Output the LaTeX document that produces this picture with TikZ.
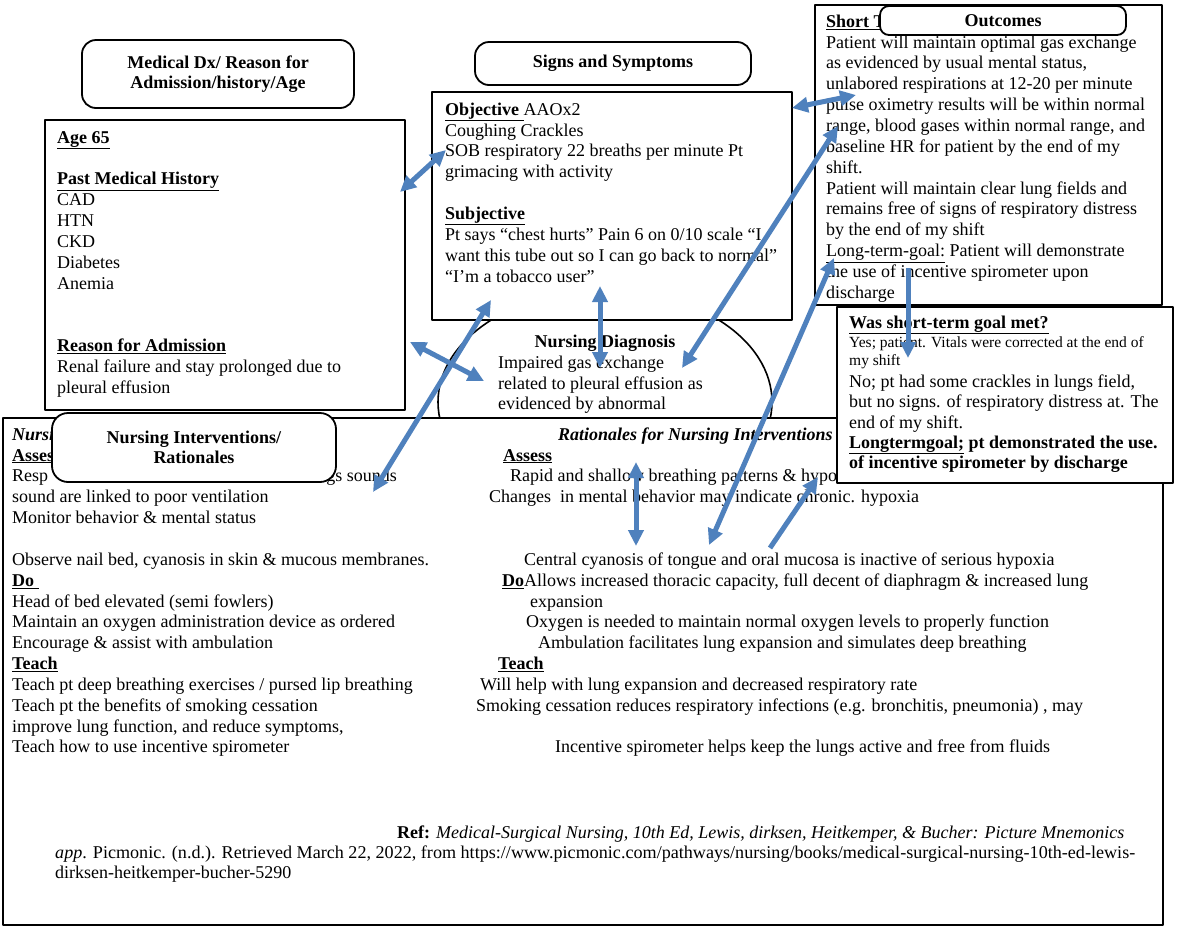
\documentclass[tikz,border=0pt]{standalone}
\usepackage{fontspec}
\setmainfont{Liberation Serif}
\usepackage{graphicx}
\usetikzlibrary{arrows.meta,shapes.geometric}
\definecolor{arrowblue}{RGB}{79,129,189}
\begin{document}
\lineskiplimit=-100pt\relax
\begin{tikzpicture}[x=1pt,y=-1pt,line join=round,
  box/.style={draw,line width=1.6pt,fill=white,rectangle,anchor=north west,inner sep=0,outer sep=0},
  hdr/.style={draw,line width=1.8pt,fill=white,rectangle,rounded corners=14pt,align=center,
    font=\bfseries\fontsize{18}{20.5}\selectfont,inner sep=0},
  txt/.style={align=left,inner sep=0,anchor=north west,
    font=\fontsize{18}{20.85}\selectfont},
  arr/.style={draw=arrowblue,line width=5pt,{Triangle[length=16pt,width=15pt]}-{Triangle[length=16pt,width=15pt]}},
  arrone/.style={draw=arrowblue,line width=5pt,-{Triangle[length=16pt,width=15pt]}}]
\useasboundingbox (0,0) rectangle (1200,927);
\fill[white] (0,0) rectangle (1200,927);

% Nursing diagnosis ellipse (behind boxes)
\node[ellipse,draw,line width=1.6pt,fill=white,minimum width=334pt,minimum height=224pt,inner sep=0] (ndell) at (605,402) {};

% main boxes of the upper row
\node[box,minimum width=360pt,minimum height=290pt] (agebox) at (45,120) {};
\node[box,minimum width=360pt,minimum height=228pt] (objbox) at (432,92) {};
\node[box,minimum width=347pt,minimum height=300pt] (outbox) at (815,5) {};

\node[txt] (agetxt) at (57,128.4) {\strut\underline{\textbf{Age 65}}\\ \\
\underline{\textbf{Past Medical History}}\\
CAD\\ HTN\\ CKD\\ Diabetes\\ Anemia\\ \\ \\
\underline{\textbf{Reason for Admission}}\\
Renal failure and stay prolonged due to\\
pleural effusion};

\node[txt] (objtxt) at (445,100.4) {\strut\underline{\textbf{Objective }}AAOx2\\
Coughing Crackles\\
SOB respiratory 22 breaths per minute Pt\\
grimacing with activity\\ \\
\underline{\textbf{Subjective}}\\
Pt says “chest hurts” Pain 6 on 0/10 scale “I\\
want this tube out so I can go back to normal”\\
“I’m a tobacco user”};

\node[txt] (outtxt) at (826,12.4) {\strut\underline{\textbf{Short T}}\\
Patient will maintain optimal gas exchange\\
as evidenced by usual mental status,\\
unlabored respirations at 12-20 per minute\\
pulse oximetry results will be within normal\\
range, blood gases within normal range, and\\
baseline HR for patient by the end of my\\
shift.\\
Patient will maintain clear lung fields and\\
remains free of signs of respiratory distress\\
by the end of my shift\\
\underline{Long-term-goal:} Patient will demonstrate\\
the use of incentive spirometer upon\\
discharge};

\node[anchor=base,inner sep=0,font=\bfseries\fontsize{18}{20.85}\selectfont] (ndtitle) at (605,347) {Nursing Diagnosis};
\node[txt] (ndtxt) at (498,353.4) {\strut Impaired gas exchange\\
related to pleural effusion as\\
evidenced by abnormal};

% header boxes
\node[hdr,minimum width=272pt,minimum height=68pt] (mdx) at (218,74) {Medical Dx/ Reason for\\Admission/history/Age};
\node[hdr,minimum width=276pt,minimum height=43pt] (sns) at (613,63.5) {Signs and Symptoms};
\node[hdr,rounded corners=9pt,minimum width=246pt,minimum height=29pt] (outhdr) at (1003,20.5) {Outcomes};

% big bottom box
\node[box,minimum width=1160pt,minimum height=507pt] (bigbox) at (3,418) {};

\node[txt] (lefttxt) at (12,425.4) {\strut\textbf{\textit{Nursing Interventions}}\\
\underline{\textbf{Assess}}\\
Resp\\
sound are linked to poor ventilation\\
Monitor behavior \& mental status\\ \\
Observe nail bed, cyanosis in skin \& mucous membranes.\\
\underline{\textbf{Do }}\\
Head of bed elevated (semi fowlers)\\
Maintain an oxygen administration device as ordered\\
Encourage \& assist with ambulation\\
\underline{\textbf{Teach}}\\
Teach pt deep breathing exercises / pursed lip breathing\\
Teach pt the benefits of smoking cessation\\
improve lung function, and reduce symptoms,\\
Teach how to use incentive spirometer};
\node[anchor=base east,inner sep=0,font=\fontsize{18}{20.85}\selectfont] (lungs) at (397,481.6) {lungs sounds};

\node[txt] (righttxt) at (476,425.4) {\strut\hspace*{82pt}\textbf{\textit{Rationales for Nursing Interventions}}\\
\hspace*{27pt}\underline{\textbf{Assess}}\\
\hspace*{34pt}Rapid and shallow breathing patterns \& hypoventilation\\
\hspace*{13pt}Changes\ \ in mental behavior may indicate chronic. hypoxia\\ \\ \\
\hspace*{48pt}Central cyanosis of tongue and oral mucosa is inactive of serious hypoxia\\
\hspace*{26pt}\underline{\textbf{Do}}Allows increased thoracic capacity, full decent of diaphragm \& increased lung\\
\hspace*{54pt}expansion\\
\hspace*{50pt}Oxygen is needed to maintain normal oxygen levels to properly function\\
\hspace*{62pt}Ambulation facilitates lung expansion and simulates deep breathing\\
\hspace*{22pt}\underline{\textbf{Teach}}\\
\hspace*{4pt}Will help with lung expansion and decreased respiratory rate\\
Smoking cessation reduces respiratory infections (e.g. bronchitis, pneumonia) , may\\ \\
\hspace*{79pt}Incentive spirometer helps keep the lungs active and free from fluids};

\node[anchor=base west,inner sep=0,font=\fontsize{18}{20.85}\selectfont] (ref1) at (397,838)
  {\resizebox{727pt}{\height}{\textbf{Ref:} \textit{Medical-Surgical Nursing, 10th Ed, Lewis, dirksen, Heitkemper, \& Bucher: Picture Mnemonics}}};
\node[anchor=base west,inner sep=0,font=\fontsize{18}{20.85}\selectfont] (ref2) at (55,858)
  {\resizebox{1080pt}{\height}{\textit{app}. Picmonic. (n.d.). Retrieved March 22, 2022, from https://www.picmonic.com/pathways/nursing/books/medical-surgical-nursing-10th-ed-lewis-}};
\node[anchor=base west,inner sep=0,font=\fontsize{18}{20.85}\selectfont] (ref3) at (55,878)
  {dirksen-heitkemper-bucher-5290};

\node[hdr,rounded corners=16pt,minimum width=284pt,minimum height=69pt] (nihdr) at (194,447.5) {Nursing Interventions/\\Rationales};

% evaluation box
\node[box,minimum width=336pt,minimum height=176pt] (wasbox) at (837,307) {};
\node[txt,font=\fontsize{18}{20}\selectfont] (wastxt) at (849,314) {\strut\underline{\textbf{Was short-term goal met?}}\\[-1pt]
{\fontsize{15.5}{19}\selectfont Yes; patient. Vitals were corrected at the end of}\\[-2pt]
{\fontsize{15.5}{19}\selectfont my shift}\\[2pt]
No; pt had some crackles in lungs field,\\
but no signs. of respiratory distress at. The\\[1pt]
end of my shift.\\
\textbf{\underline{Longtermgoal;} pt demonstrated the use.}\\
\textbf{of incentive spirometer by discharge}};

% arrow end points
\coordinate (a1s) at (400,192); \coordinate (a1e) at (446,150);
\coordinate (a2s) at (410,342); \coordinate (a2e) at (484,381);
\coordinate (a3s) at (373,492); \coordinate (a3e) at (491,300);
\coordinate (a4s) at (600,286); \coordinate (a4e) at (600,368);
\coordinate (a5s) at (838,126); \coordinate (a5e) at (682,368);
\coordinate (a6s) at (792,108); \coordinate (a6e) at (856,95);
\coordinate (a7s) at (908,268); \coordinate (a7e) at (908,358);
\coordinate (a8s) at (834,258); \coordinate (a8e) at (709,545);
\coordinate (a9s) at (636,462); \coordinate (a9e) at (636,546);
\coordinate (a10s) at (770,548); \coordinate (a10e) at (818,477);

\draw[arr] (a1s) -- (a1e);
\draw[arr] (a2s) -- (a2e);
\draw[arr] (a3s) -- (a3e);
\draw[arr] (a4s) -- (a4e);
\draw[arr] (a5s) -- (a5e);
\draw[arr] (a6s) -- (a6e);
\draw[arrone] (a7s) -- (a7e);
\draw[arr] (a8s) -- (a8e);
\draw[arr] (a9s) -- (a9e);
\draw[arrone] (a10s) -- (a10e);
\end{tikzpicture}
\end{document}
